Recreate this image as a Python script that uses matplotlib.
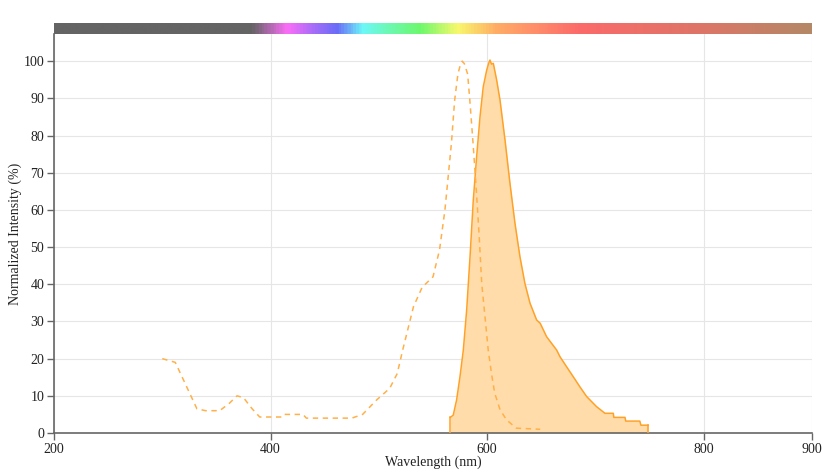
import matplotlib
matplotlib.use("Agg")
import matplotlib.pyplot as plt
import numpy as np
from matplotlib.colors import LinearSegmentedColormap

plt.rcParams['font.family'] = ['Liberation Serif', 'DejaVu Serif']

# Excitation spectrum (dashed)
ex_nm = [300, 307, 312, 320, 332, 340, 353, 362, 369, 375, 383, 390, 411, 413, 430, 433,
         475, 485, 498, 510, 517, 522, 532, 540, 550, 556, 561, 564, 567, 570, 573, 575.5,
         577, 579, 582, 584, 587, 590, 592.5, 595, 598, 601, 604, 607, 612, 618, 627, 649]
ex_val = [20, 19.4, 19, 14, 6.5, 6, 6, 8, 10, 9.5, 6.5, 4.3, 4.3, 5, 5, 4,
          4, 5, 8.9, 12, 16, 22.3, 34, 39.2, 42, 49.2, 59.9, 68.9, 77.9, 89.5, 96.5, 99.3,
          100, 99.3, 96.5, 89.5, 77.9, 65.3, 53.7, 40.2, 31.3, 22.3, 16, 10.7, 6.2, 3.5, 1.3, 1.0]

# Emission spectrum (filled)
em_nm = [566, 568.7, 571.8, 574.9, 578, 581.1, 584.2, 587.2, 590.3, 593.4, 596.4, 599.6,
         601.5, 602.6, 604, 605.7, 608.8, 611.9, 616.5, 621.1, 625.7, 630.3, 634.9, 639.6,
         645.7, 649, 654.9, 664.2, 667.3, 673.4, 679.6, 685.7, 691.9, 701, 708.8, 716.5,
         717, 727.3, 728, 741, 742, 748.7]
em_val = [4.2, 4.8, 8.9, 15.1, 22.3, 33.1, 47.4, 62.6, 74.3, 85, 93.1, 97.6,
          99.5, 100.3, 99.2, 99.4, 94.9, 89.5, 78.8, 67.1, 56.4, 47.4, 40.2, 34.9,
          30.4, 29.5, 25.9, 22.3, 20.5, 17.8, 15.1, 12.4, 9.8, 7.1, 5.3, 5.3,
          4.2, 4.2, 3.2, 3.2, 2.1, 2.1]

# Wavelength colour bar stops
bar_nm = [200, 382, 415, 439, 461, 485, 510, 538, 573, 609, 649, 686, 794, 900]
bar_colors = ['#646464', '#646464', '#fb6ef8', '#a76cf8', '#6a6cf8', '#6cf8f8', '#6cf8b0',
              '#6cf86c', '#f8f86c', '#ffac66', '#ff8a6a', '#fb6a6a', '#df7468', '#b48866']

x_min, x_max = 200, 900
y_max = 107.3

fig = plt.figure(figsize=(8.28, 4.71), dpi=100)
ax = fig.add_axes([54 / 828, 1 - 433 / 471, 758 / 828, 399 / 471])

line_col = '#ffa126'
ax.fill_between(em_nm, em_val, 0, color='#ffdcaa', linewidth=0, zorder=2)
ax.plot(em_nm, em_val, color=line_col, linewidth=1.1, zorder=3)
ax.plot([em_nm[0], em_nm[0]], [0, em_val[0]], color=line_col, linewidth=1.1, zorder=3)
ax.plot([em_nm[-1], em_nm[-1]], [0, em_val[-1]], color=line_col, linewidth=1.1, zorder=3)
ax.plot(ex_nm, ex_val, color='#ffb049', linewidth=1.1, linestyle=(0, (3.5, 3)), zorder=3)

ax.set_xlim(x_min, x_max)
ax.set_ylim(0, y_max)
ax.set_xticks([200, 400, 600, 800, 900])
ax.set_yticks(range(0, 101, 10))
ax.grid(True, color='#e6e6e6', linewidth=0.8, zorder=0)
ax.set_axisbelow(True)
for s in ['top', 'right']:
    ax.spines[s].set_visible(False)
for s in ['left', 'bottom']:
    ax.spines[s].set_color('#666666')
    ax.spines[s].set_linewidth(1.2)
ax.tick_params(colors='#666666', labelcolor='#222222', labelsize=10, length=5, width=1, pad=2)
ax.set_xlabel('Wavelength (nm)', fontsize=10, color='#222222')
ax.set_ylabel('Normalized Intensity (%)', fontsize=10, color='#222222')
ax.xaxis.set_label_coords(0.5, -0.056)
ax.yaxis.set_label_coords(-0.042, 0.5)

# colour bar on top
bar_ax = fig.add_axes([54 / 828, 1 - 34 / 471, 758 / 828, 11 / 471])
cmap = LinearSegmentedColormap.from_list(
    'spec', [((w - x_min) / (x_max - x_min), c) for w, c in zip(bar_nm, bar_colors)])
grad = np.linspace(x_min, x_max, 700).reshape(1, -1)
bar_ax.imshow(grad, aspect='auto', cmap=cmap, vmin=x_min, vmax=x_max,
              extent=[x_min, x_max, 0, 1])
bar_ax.set_axis_off()

fig.savefig('out.png', dpi=100)
